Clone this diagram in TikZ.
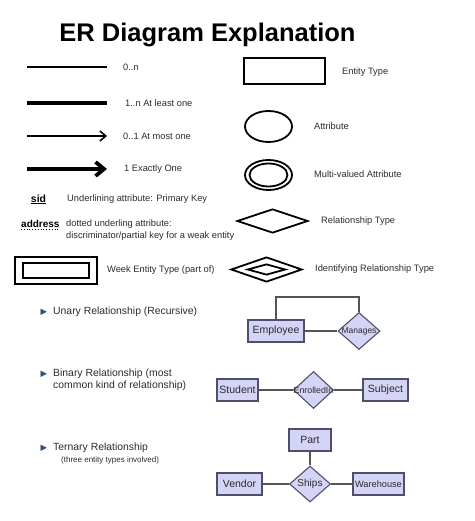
\documentclass[tikz,border=0pt]{standalone}
\usepackage{fontspec}
\setmainfont{Liberation Sans}
\newfontfamily\dejavu{DejaVu Sans}
\usetikzlibrary{shapes.geometric,arrows.meta}
\definecolor{boxfill}{HTML}{D4D4F6}
\definecolor{boxline}{HTML}{4F4F6B}
\definecolor{connc}{HTML}{555555}
\definecolor{txt}{HTML}{2B2B2B}
\definecolor{bulletc}{HTML}{2F4F7F}
\begin{document}
\begin{tikzpicture}[x=1pt,y=-1pt,
  lbl/.style={anchor=west, inner sep=0pt, font=\fontsize{9.3}{11}\selectfont, text=txt},
  bul/.style={anchor=west, inner sep=0pt, font=\fontsize{10.4}{12.2}\selectfont, text=txt, align=left},
  bulmark/.style={inner sep=0pt, font=\dejavu\fontsize{8.5}{8.5}\selectfont, text=bulletc},
  legshape/.style={draw=black, line width=1.8pt, inner sep=0pt},
  ent/.style={draw=boxline, fill=boxfill, line width=1.1pt, minimum height=22, inner sep=0pt,
              font=\fontsize{10.5}{12}\selectfont, text=txt},
  rel/.style={diamond, draw=boxline, fill=boxfill, line width=1.1pt, inner sep=0pt,
              minimum width=41, minimum height=37},
  reltext/.style={inner sep=0pt, text=txt},
  conn/.style={draw=connc, line width=1.1pt}
]
\useasboundingbox (0,0) rectangle (474,521);

% title
\node[anchor=base, inner sep=0pt, font=\fontsize{25.5}{30}\selectfont\bfseries] (title) at (207.5,42) {ER Diagram Explanation};

% cardinality legend
\coordinate (l1a) at (27,67);  \coordinate (l1b) at (107,67);
\coordinate (l2a) at (27,103); \coordinate (l2b) at (107,103);
\coordinate (l3a) at (27,136); \coordinate (l3b) at (107,136);
\coordinate (l4a) at (27,169); \coordinate (l4b) at (107,169);
\draw[line width=1.5pt] (l1a) -- (l1b);
\draw[line width=4.5pt] (l2a) -- (l2b);
\draw[line width=1.5pt, -{Straight Barb[length=6pt,width=10pt]}] (l3a) -- (l3b);
\draw[line width=3.8pt, -{Straight Barb[length=8.5pt,width=14pt]}] (l4a) -- (l4b);
\node[lbl] (t1) at (123,67) {0..n};
\node[lbl] (t2) at (125,103) {1..n At least one};
\node[lbl] (t3) at (123,136) {0..1 At most one};
\node[lbl] (t4) at (124,169) {1 Exactly One};

% keys
\node[inner sep=0pt, anchor=base, font=\fontsize{10.4}{12}\selectfont\bfseries] (sid) at (38.5,202) {\underline{sid}};
\node[lbl] (tsid) at (67,199) {Underlining attribute: Primary Key};
\node[inner sep=0pt, anchor=base west, font=\fontsize{10}{12}\selectfont\bfseries] (addr) at (21,227) {address};
\draw[dotted, line width=0.8pt] ([yshift=-2pt]addr.base west) -- ([yshift=-2pt]addr.base east);
\node[lbl] (taddr1) at (66,224) {dotted underling attribute:};
\node[lbl] (taddr2) at (66,236) {discriminator/partial key for a weak entity};

% weak entity
\node[legshape, line width=2.6pt, minimum width=82, minimum height=27] (weako) at (56,270.5) {};
\node[legshape, line width=2.2pt, minimum width=66, minimum height=15] (weaki) at (56,270.5) {};
\node[lbl] (tweak) at (107,270) {Week Entity Type (part of)};

% right column legend
\node[legshape, minimum width=81, minimum height=26] (entity) at (284.5,71) {};
\node[lbl] (tentity) at (342,72) {Entity Type};
\node[legshape, ellipse, minimum width=47, minimum height=31] (attr) at (268.5,126.5) {};
\node[lbl] (tattr) at (314,126) {Attribute};
\node[legshape, ellipse, minimum width=47, minimum height=30] (mvo) at (268.5,175) {};
\node[legshape, ellipse, minimum width=38, minimum height=23] (mvi) at (268.5,175) {};
\node[lbl] (tmv) at (314,174.5) {Multi-valued Attribute};
\node[legshape, diamond, minimum width=71, minimum height=24] (relty) at (272.5,221) {};
\node[lbl] (trel) at (321,221) {Relationship Type};
\node[legshape, diamond, minimum width=71, minimum height=25] (idro) at (266.5,269.5) {};
\node[legshape, diamond, minimum width=38, minimum height=11] (idri) at (266.5,269.5) {};
\node[lbl] (tidr) at (315,269) {Identifying Relationship Type};

% bullets
\node[bulmark] (b1) at (44,312) {▶};
\node[bul] (u1) at (53,312) {Unary Relationship (Recursive)};
\node[bulmark] (b2) at (44,374) {▶};
\node[bul] (u2) at (53,380) {Binary Relationship (most\\common kind of relationship)};
\node[bulmark] (b3) at (44,448) {▶};
\node[bul] (u3) at (53,448) {Ternary Relationship};
\node[bul, font=\fontsize{8}{10}\selectfont] (u3b) at (61,460.5) {(three entity types involved)};

% unary
\node[ent, minimum width=56] (emp) at (276,331) {Employee};
\node[rel, minimum width=42] (man) at (359,331) {};
\node[reltext, font=\fontsize{8.5}{9}\selectfont] (mant) at (man) {Manages};
\draw[conn] (emp.east) -- (man.west);
\draw[conn] (emp.north) -- (emp.north |- 0,297) -| (man.north);

% binary
\node[ent, minimum width=41] (stu) at (237.5,390) {Student};
\node[rel, minimum width=40] (enr) at (313.5,390) {};
\node[ent, minimum width=45] (sub) at (385.5,390) {Subject};
\draw[conn] (stu.east) -- (enr.west);
\draw[conn] (enr.east) -- (sub.west);
\node[reltext, font=\fontsize{8.8}{10}\selectfont] (enrt) at (enr) {EnrolledIn};

% ternary
\node[ent, minimum width=42] (part) at (310,440) {Part};
\node[rel, minimum width=41, minimum height=36] (ship) at (310,484) {};
\node[reltext, font=\fontsize{10}{11}\selectfont] (shipt) at (ship) {Ships};
\node[ent, minimum width=45] (ven) at (239.5,484) {Vendor};
\node[ent, minimum width=51, font=\fontsize{9.2}{11}\selectfont] (ware) at (378.5,484) {Warehouse};
\draw[conn] (part.south) -- (ship.north);
\draw[conn] (ven.east) -- (ship.west);
\draw[conn] (ship.east) -- (ware.west);
\end{tikzpicture}
\end{document}
